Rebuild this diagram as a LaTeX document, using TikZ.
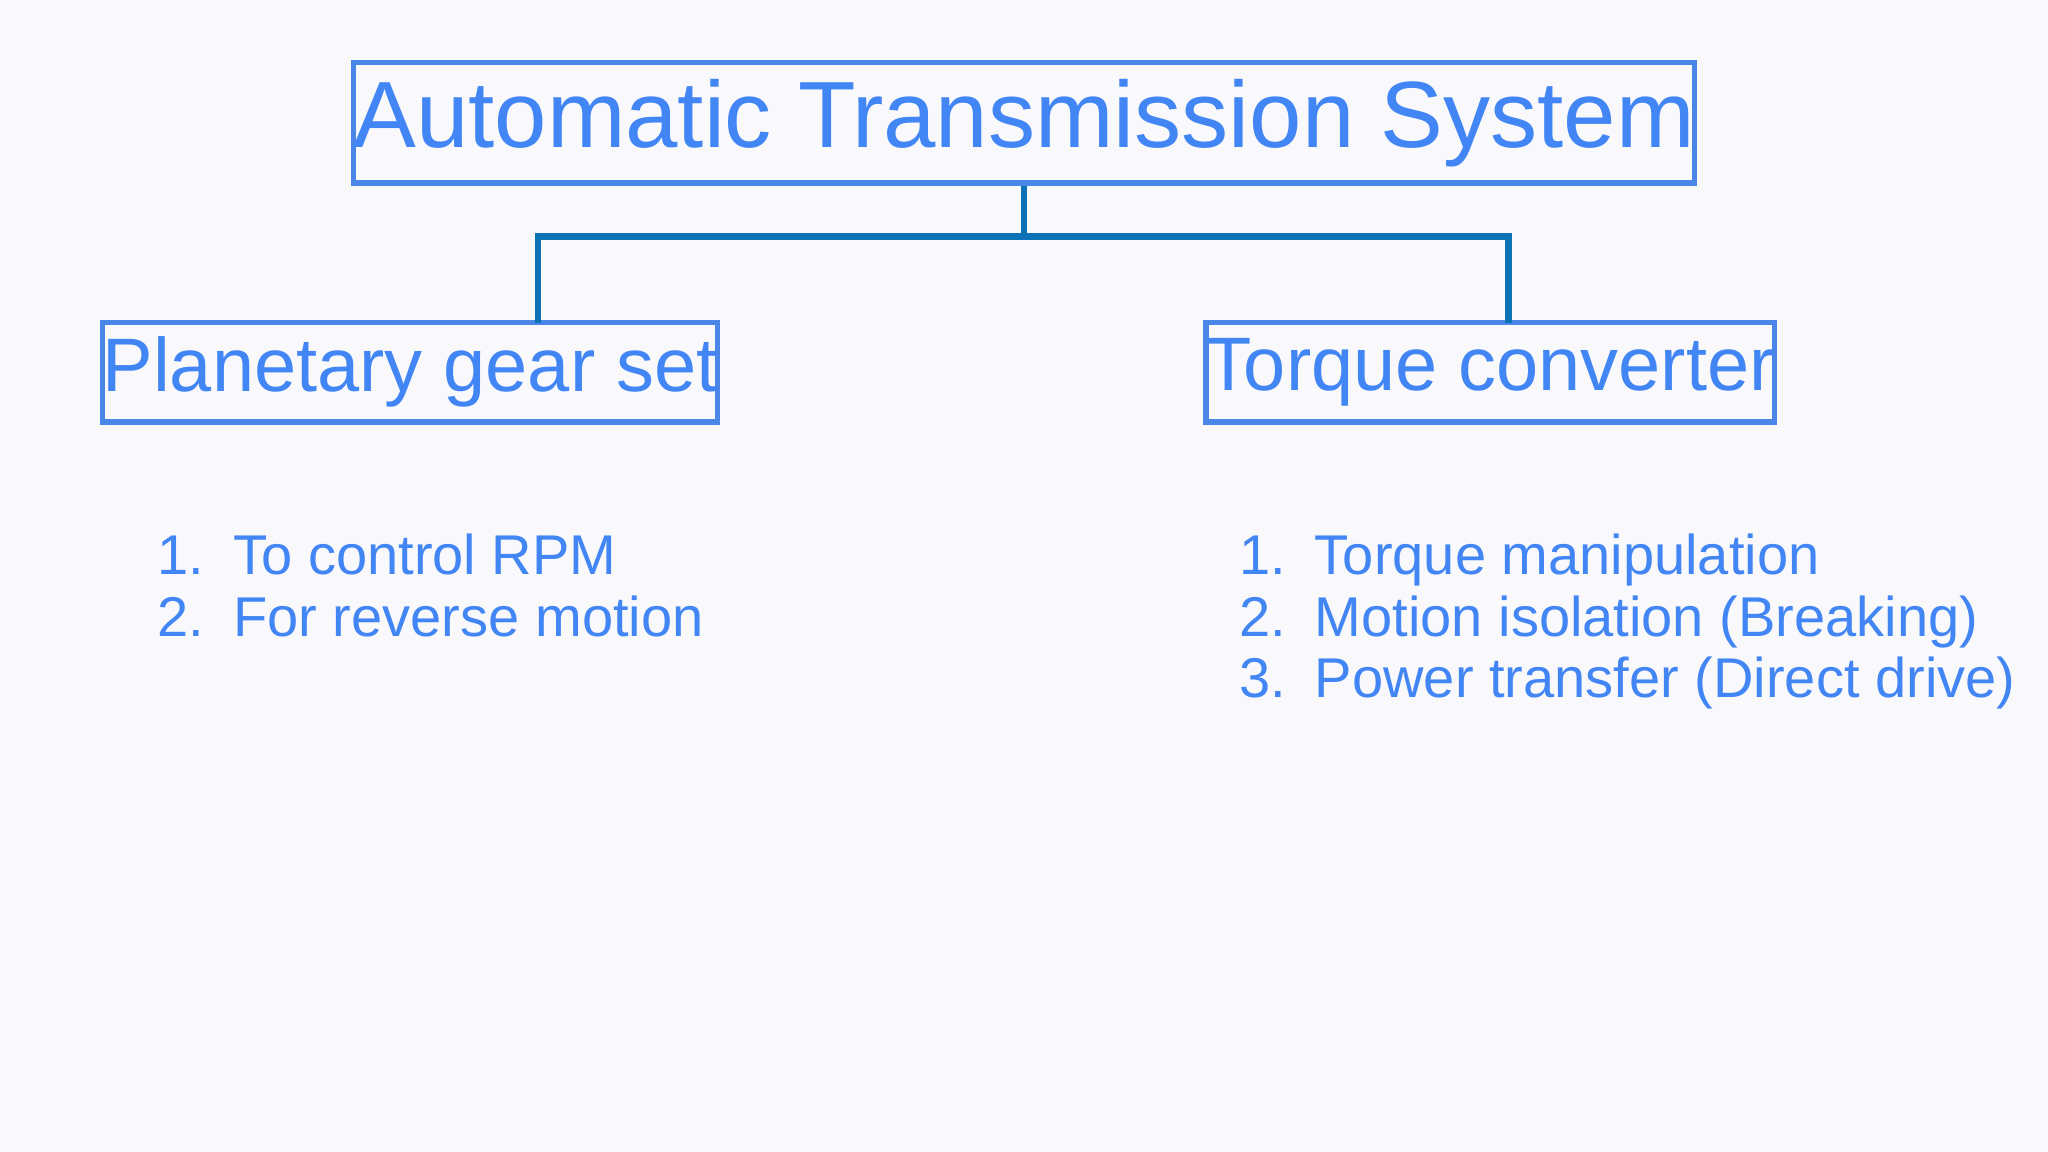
\documentclass[tikz,border=0pt]{standalone}
\usepackage{fontspec}
\setmainfont{Liberation Sans}
\definecolor{txt}{HTML}{4285F4}
\definecolor{brd}{HTML}{4A86E8}
\definecolor{con}{HTML}{0B72B5}
\definecolor{bg}{HTML}{F9F9FB}
\begin{document}
\begin{tikzpicture}[x=0.01cm,y=-0.01cm,
  box/.style={draw=brd,line width=0.04cm,inner sep=0pt,text=txt},
  conn/.style={draw=con,line width=0.05cm},
  item/.style={anchor=base west,text=txt,font=\fontsize{12.2}{14}\selectfont,inner sep=0pt}]
\fill[bg] (0,0) rectangle (1568,882);
\useasboundingbox (0,0) rectangle (1568,882);
\node[box,minimum width=9.64cm,minimum height=0.92cm,font=\fontsize{20.5}{24}\selectfont] (top) at (784,94) {Automatic Transmission System};
\node[box,minimum width=4.52cm,minimum height=0.76cm,font=\fontsize{16.5}{20}\selectfont] (pgs) at (314,285) {Planetary gear set};
\node[box,minimum width=4.20cm,minimum height=0.76cm,font=\fontsize{16.5}{20}\selectfont] (tc) at (1141,285) {Torque converter};
\coordinate (j) at (784,181);
\draw[conn] (top.south) -- (j) -- (412,181) -- (412,247);
\draw[conn] (j) -- (1155,181) -- (1155,247);
\node[item] (a1n) at (120,440) {1.};
\node[item] (a1) at (178,440) {To control RPM};
\node[item] (a2n) at (120,487) {2.};
\node[item] (a2) at (178,487) {For reverse motion};
\node[item] (b1n) at (948,440) {1.};
\node[item] (b1) at (1006,440) {Torque manipulation};
\node[item] (b2n) at (948,487) {2.};
\node[item] (b2) at (1006,487) {Motion isolation (Breaking)};
\node[item] (b3n) at (948,534) {3.};
\node[item] (b3) at (1006,534) {Power transfer (Direct drive)};
\end{tikzpicture}
\end{document}
